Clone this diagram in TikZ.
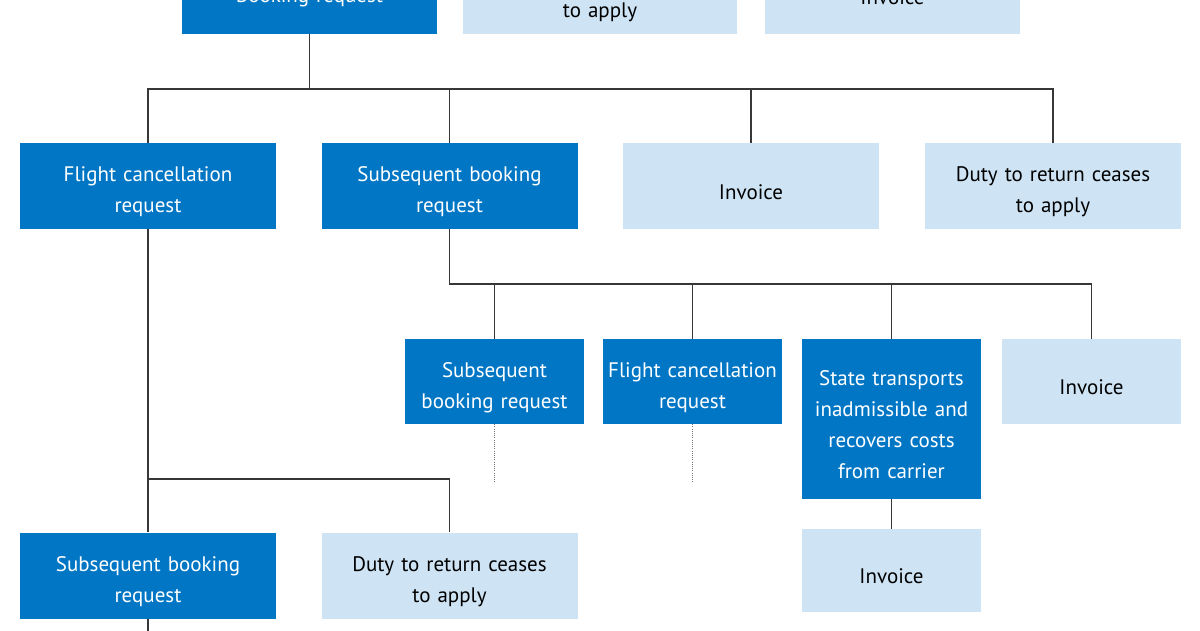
\documentclass[tikz,border=0pt]{standalone}
\usepackage{fontspec}
\setmainfont{PT Sans}
\usetikzlibrary{positioning,calc}
\definecolor{stepD}{RGB}{0,118,197}
\definecolor{stepL}{RGB}{206,228,244}
\definecolor{linkG}{RGB}{55,55,55}

\begin{document}
\begin{tikzpicture}[
  x=1pt, y=-1pt,
  box/.style={inner sep=0pt, align=center, font=\fontsize{21}{31}\selectfont,
    execute at begin node={\rule{0pt}{27pt}}},
  dark/.style={box, fill=stepD, text=white},
  light/.style={box, fill=stepL, text=black},
  wide/.style={minimum width=256pt, text width=250pt, minimum height=86pt},
  narrow/.style={minimum width=179pt, text width=177pt, minimum height=85pt},
  link/.style={draw=linkG, line width=1.8pt},
  trail/.style={draw=linkG!70, line width=1.8pt, dash pattern=on 1pt off 1.2pt}
]
\useasboundingbox (0,0) rectangle (1200,630);
\clip (0,0) rectangle (1200,630);

% top row (cut by frame)
\node[dark, wide, minimum width=255pt] (book) at (309.5,-9) {Booking request};
\node[light, wide, minimum width=274pt] (dutyT) at (600,-9) {Duty to return ceases\\to apply};
\node[light, wide, minimum width=255pt] (invT) at (892.5,-9) {Invoice};

% second row
\node[dark, wide] (cancel) at (148,186) {Flight cancellation\\request};
\node[dark, wide] (sub) at (449.5,186) {Subsequent booking\\request};
\node[light, wide] (inv) at (751,186) {Invoice};
\node[light, wide] (duty) at (1053,186) {Duty to return ceases\\to apply};

% third row
\node[dark, narrow] (subB) at (494.5,381.5) {Subsequent\\booking request};
\node[dark, narrow] (cancelB) at (692.5,381.5) {Flight cancellation\\request};
\node[dark, narrow, minimum height=160pt] (state) at (891.5,419) {State transports\\inadmissible and\\recovers costs\\from carrier};
\node[light, narrow] (invB) at (1091.5,381.5) {Invoice};
\node[light, narrow, minimum height=83pt] (invS) at (891.5,570.5) {Invoice};

% fourth row
\node[dark, wide] (subC) at (148,575.5) {Subsequent booking\\request};
\node[light, wide] (dutyC) at (449.5,575.5) {Duty to return ceases\\to apply};

% connectors
\coordinate (busA) at (0,89);
\coordinate (busB) at (0,284);
\coordinate (busC) at (0,479);

\draw[link] (book.south) -- (book.south |- busA);
\draw[link] (cancel.north) |- (duty.north |- busA) -- (duty.north);
\foreach \n in {sub,inv}
  \draw[link] (\n.north) -- (\n.north |- busA);

\draw[link] (sub.south) |- (invB.north |- busB) -- (invB.north);
\foreach \n in {subB,cancelB,state}
  \draw[link] (\n.north) -- (\n.north |- busB);
\draw[link] (state) -- (invS);

\draw[link] (cancel.south) -- (subC.north);
\draw[link] (cancel.south |- busC) -| (dutyC.north);
\draw[link] (subC.south) -- ++(0,14);

\draw[trail] (subB.south) -- ++(0,58);
\draw[trail] (cancelB.south) -- ++(0,58);

\end{tikzpicture}
\end{document}
